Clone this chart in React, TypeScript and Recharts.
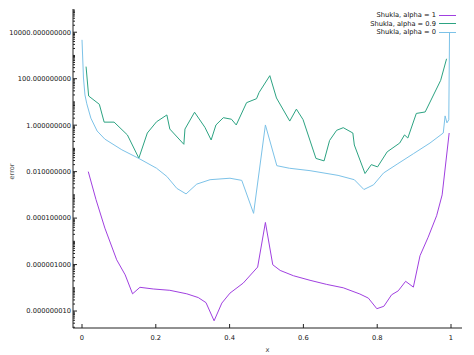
import React from "react";
import { LineChart, Line, XAxis, YAxis } from "recharts";

// Shukla, alpha = 1
const alpha1X = [
  0.017, 0.038, 0.062, 0.094, 0.117, 0.137, 0.157, 0.193, 0.238, 0.284, 0.315, 0.336, 0.358,
  0.379, 0.401, 0.437, 0.476, 0.497, 0.517, 0.537, 0.573, 0.618, 0.663, 0.708, 0.753, 0.776,
  0.799, 0.818, 0.839, 0.857, 0.877, 0.898, 0.916, 0.938, 0.961, 0.976, 0.995,
];
const alpha1Y = [
  1.0e-2, 6.2e-4, 3.7e-5, 1.6e-6, 3.6e-7, 5.5e-8, 1.05e-7, 8.9e-8, 7.8e-8, 5.5e-8, 3.8e-8, 2.3e-8, 3.8e-9,
  2.2e-8, 5.9e-8, 1.6e-7, 7.8e-7, 6.5e-5, 9.8e-7, 5.6e-7, 3.3e-7, 2.1e-7, 1.4e-7, 1.0e-7, 5.4e-8, 3.6e-8,
  1.26e-8, 1.6e-8, 5.0e-8, 7.4e-8, 1.9e-7, 1.07e-7, 2.4e-6, 1.5e-5, 1.26e-4, 1.0e-3, 0.46,
];

// Shukla, alpha = 0.9
const alpha09X = [
  0.011, 0.018, 0.047, 0.06, 0.087, 0.123, 0.154, 0.177, 0.202, 0.23, 0.238, 0.276, 0.279,
  0.305, 0.333, 0.35, 0.363, 0.383, 0.405, 0.418, 0.446, 0.473, 0.48, 0.509, 0.527, 0.563,
  0.581, 0.599, 0.634, 0.656, 0.671, 0.69, 0.708, 0.734, 0.738, 0.767, 0.784, 0.801, 0.827,
  0.861, 0.874, 0.883, 0.906, 0.93, 0.972, 0.988,
];
const alpha09Y = [
  331, 18, 7.9, 1.35, 1.35, 0.38, 0.038, 0.46, 1.4, 2.75, 0.68, 0.15, 0.68,
  3.6, 0.81, 0.23, 1.02, 2.1, 1.8, 1.02, 9.3, 13.8, 25.7, 135, 14.8, 1.5,
  4.9, 1.74, 0.037, 0.029, 0.22, 0.6, 0.78, 0.46, 0.14, 0.0083, 0.02, 0.016, 0.071,
  0.17, 0.38, 0.28, 3.2, 3.7, 85, 720,
];

// Shukla, alpha = 0
const alpha0X = [
  0.0, 0.004, 0.008, 0.013, 0.024, 0.041, 0.062, 0.108, 0.154, 0.202, 0.23, 0.257, 0.282,
  0.311, 0.347, 0.401, 0.433, 0.465, 0.497, 0.528, 0.562, 0.618, 0.694, 0.738, 0.764, 0.79,
  0.817, 0.856, 0.898, 0.943, 0.979, 0.984, 0.989, 0.994, 0.996,
];
const alpha0Y = [
  4700, 107, 20, 8.3, 2.0, 0.56, 0.25, 0.087, 0.037, 0.014, 0.0062, 0.0019, 0.0011,
  0.0029, 0.0045, 0.0052, 0.0042, 0.00016, 1.02, 0.018, 0.014, 0.011, 0.0069, 0.0045, 0.0017, 0.0027,
  0.0087, 0.022, 0.059, 0.17, 0.46, 2.5, 1.26, 1.7, 9300,
];

const xTicks = [0, 0.2, 0.4, 0.6, 0.8, 1];
const yMajorTicks = [1e4, 1e2, 1, 1e-2, 1e-4, 1e-6, 1e-8];
const yDomain = [1.86e-9, 1e5];
const xDomain = [-0.0244, 1.0298];

// minor ticks: 2..9 within each decade plus the odd decades between labels
const yMinorTicks: number[] = [];
for (let k = -9; k <= 4; k++) {
  for (let m = 1; m <= 9; m++) {
    const v = Number((m * Math.pow(10, k)).toPrecision(3));
    if (m === 1 && Math.abs(k) % 2 === 0) continue;
    if (v >= yDomain[0] && v <= yDomain[1]) yMinorTicks.push(v);
  }
}
const yAllTicks = [...yMajorTicks, ...yMinorTicks];

const toPoints = (xs: number[], ys: number[]) => xs.map((x, i) => ({ x, y: ys[i] }));

const series = [
  { name: "Shukla, alpha = 1", color: "#a040e0", data: toPoints(alpha1X, alpha1Y) },
  { name: "Shukla, alpha = 0.9", color: "#2ca382", data: toPoints(alpha09X, alpha09Y) },
  { name: "Shukla, alpha = 0", color: "#7cc2e8", data: toPoints(alpha0X, alpha0Y) },
];

const FONT = "DejaVu Sans, sans-serif";
const TICK_FS = 6.7;

const isMajor = (v: number) => yMajorTicks.includes(v);

const LeftTick = ({ x, y, payload }: any) => {
  const major = isMajor(payload.value);
  return (
    <g>
      <line x1={x} x2={x + (major ? 4 : 2)} y1={y} y2={y} stroke="#222" strokeWidth={1} />
      {major && (
        <text x={x - 2} y={y} dy="0.35em" textAnchor="end" fontSize={TICK_FS} fontFamily={FONT} fill="#111">
          {payload.value.toFixed(9)}
        </text>
      )}
    </g>
  );
};

const RightTick = ({ x, y, payload }: any) => {
  const major = isMajor(payload.value);
  return <line x1={x} x2={x - (major ? 4 : 2)} y1={y} y2={y} stroke="#222" strokeWidth={1} />;
};

const BottomTick = ({ x, y, payload }: any) => (
  <g>
    <line x1={x} x2={x} y1={y} y2={y - 4} stroke="#222" strokeWidth={1} />
    <text x={x} y={y + 10} dy="0.35em" textAnchor="middle" fontSize={TICK_FS} fontFamily={FONT} fill="#111">
      {String(payload.value)}
    </text>
  </g>
);

const TopTick = ({ x, y }: any) => (
  <line x1={x} x2={x} y1={y} y2={y + 4} stroke="#222" strokeWidth={1} />
);

export default function App() {
  return (
    <div style={{ position: "relative", width: 466, height: 347 }}>
      <LineChart width={466} height={347} margin={{ top: 1, right: 12, bottom: 0, left: 5 }}>
        <XAxis
          xAxisId="b"
          dataKey="x"
          type="number"
          domain={xDomain}
          allowDataOverflow
          ticks={xTicks}
          interval={0}
          height={27}
          tickSize={0}
          tickMargin={0}
          tickLine={false}
          tick={<BottomTick />}
          axisLine={{ stroke: "#222" }}
          label={{
            content: (p: any) => {
              const vb = p.viewBox;
              return (
                <text x={vb.x + vb.width / 2} y={vb.y + 22} dy="0.35em" textAnchor="middle" fontSize={TICK_FS} fontFamily={FONT} fill="#333">
                  x
                </text>
              );
            },
          }}
        />
        <XAxis
          xAxisId="t"
          orientation="top"
          dataKey="x"
          type="number"
          domain={xDomain}
          allowDataOverflow
          ticks={xTicks}
          interval={0}
          height={0}
          tickSize={0}
          tickMargin={0}
          tickLine={false}
          tick={<TopTick />}
          axisLine={{ stroke: "#222" }}
        />
        <YAxis
          yAxisId="l"
          type="number"
          scale="log"
          domain={yDomain}
          allowDataOverflow
          ticks={yAllTicks}
          interval={0}
          width={60}
          tickSize={0}
          tickMargin={0}
          tickLine={false}
          tick={<LeftTick />}
          axisLine={{ stroke: "#222" }}
          label={{
            content: (p: any) => {
              const vb = p.viewBox;
              const cx = vb.x - 1;
              const cy = vb.y + vb.height / 2 + 3;
              return (
                <text x={cx} y={cy} dy="0.35em" textAnchor="middle" transform={`rotate(-90 ${cx} ${cy})`} fontSize={TICK_FS} fontFamily={FONT} fill="#555">
                  error
                </text>
              );
            },
          }}
        />
        <YAxis
          yAxisId="r"
          orientation="right"
          type="number"
          scale="log"
          domain={yDomain}
          allowDataOverflow
          ticks={yAllTicks}
          interval={0}
          width={0}
          tickSize={0}
          tickMargin={0}
          tickLine={false}
          tick={<RightTick />}
          axisLine={{ stroke: "#222" }}
        />
        {series.map((s) => (
          <Line
            key={s.name}
            xAxisId="b"
            yAxisId="l"
            data={s.data}
            dataKey="y"
            name={s.name}
            type="linear"
            stroke={s.color}
            strokeWidth={1}
            dot={false}
            isAnimationActive={false}
          />
        ))}
      </LineChart>
      <div
        style={{
          position: "absolute",
          top: 3,
          right: 18,
          fontFamily: FONT,
          fontSize: TICK_FS,
          color: "#111",
        }}
      >
        {series.map((s) => (
          <div key={s.name} style={{ height: 8.5, lineHeight: "8.5px", textAlign: "right", whiteSpace: "nowrap" }}>
            <span>{s.name}</span>
            <span
              style={{
                display: "inline-block",
                width: 17,
                height: 1,
                marginLeft: 3,
                verticalAlign: "middle",
                background: s.color,
              }}
            />
          </div>
        ))}
      </div>
    </div>
  );
}
